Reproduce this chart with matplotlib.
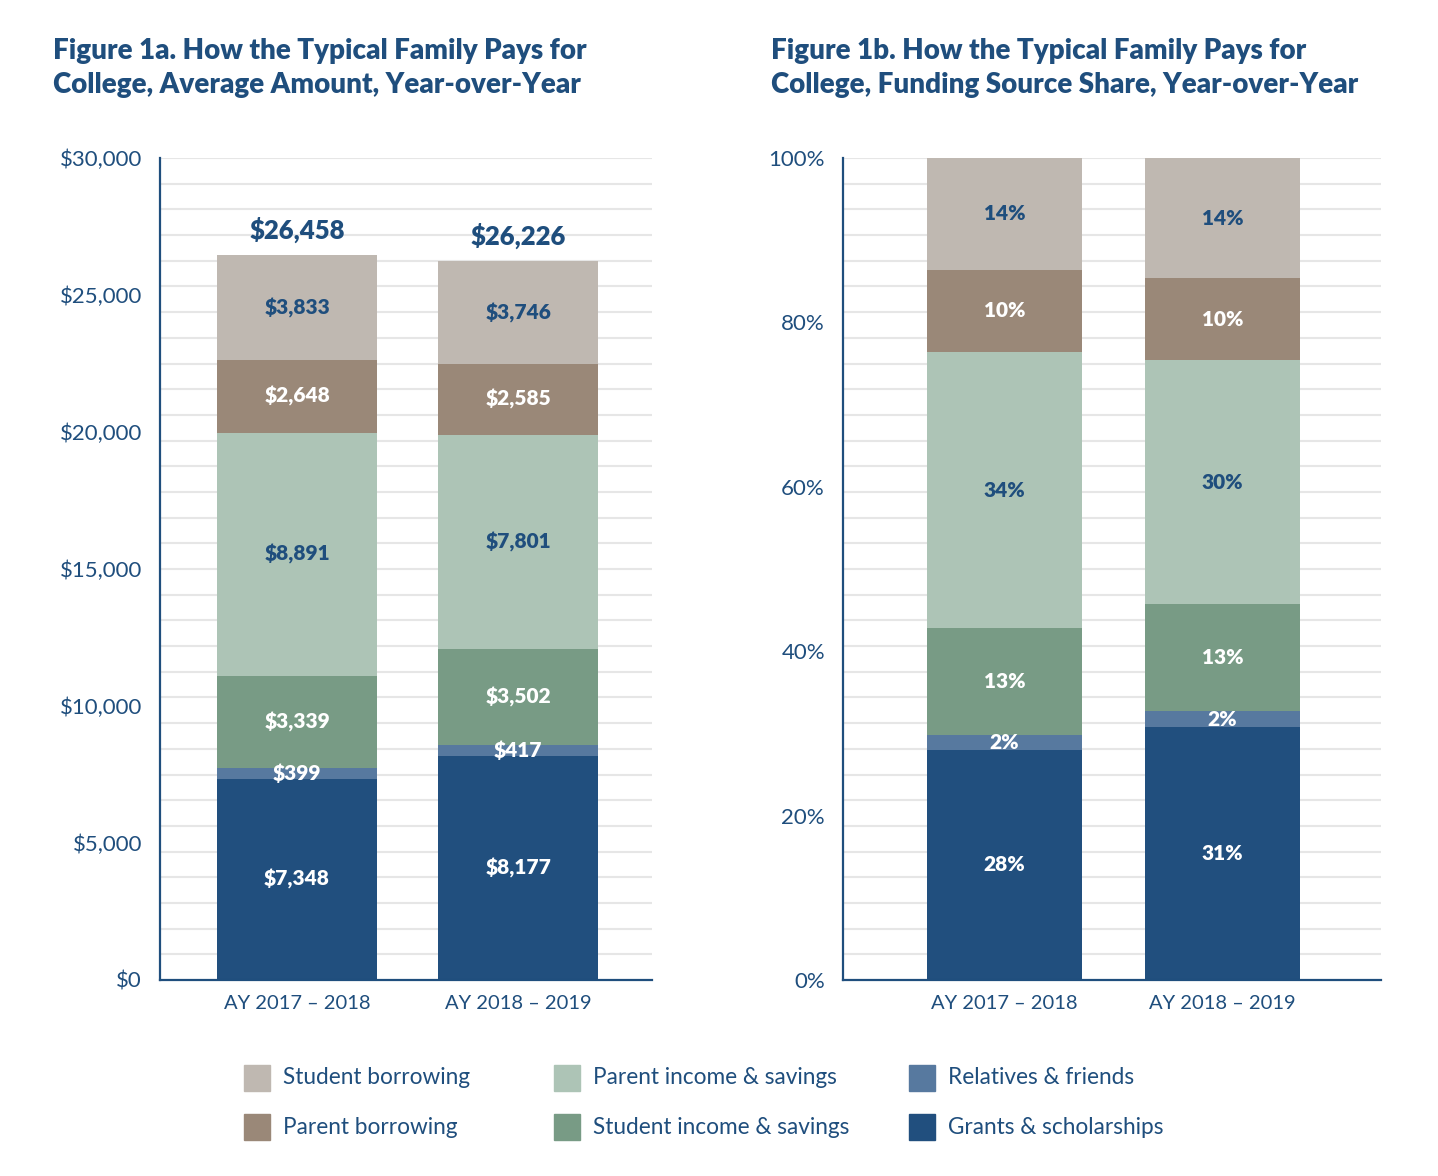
import numpy as np
import matplotlib
matplotlib.use("Agg")
import matplotlib.pyplot as plt
from matplotlib.patches import Rectangle

plt.rcParams['font.family'] = ['Lato', 'DejaVu Sans']

# data
years = ['AY 2017 – 2018', 'AY 2018 – 2019']
sources = ['Grants & scholarships', 'Relatives & friends', 'Student income & savings',
           'Parent income & savings', 'Parent borrowing', 'Student borrowing']
grants = [7348, 8177]
relatives = [399, 417]
student_income = [3339, 3502]
parent_income = [8891, 7801]
parent_borrow = [2648, 2585]
student_borrow = [3833, 3746]
totals = [26458, 26226]

# shares (percent)
grants_pct = [28.0, 30.8]
relatives_pct = [1.8, 1.9]
student_income_pct = [13.0, 13.0]
parent_income_pct = [33.6, 29.7]
parent_borrow_pct = [10.0, 10.0]
student_borrow_pct = [13.6, 14.6]
pct_labels = [['28%', '31%'], ['2%', '2%'], ['13%', '13%'],
              ['34%', '30%'], ['10%', '10%'], ['14%', '14%']]

colors = ['#214F7E', '#57799F', '#789B85', '#ADC4B6', '#9A8878', '#BFB8B1']
label_colors = ['white', 'white', 'white', '#1F4E7D', 'white', '#1F4E7D']
navy = '#1F4E7D'
grid_c = '#E6E6E6'

W, H = 1438, 1176
fig = plt.figure(figsize=(W / 100, H / 100), dpi=100)


def frac(x0, y0, x1, y1):
    return [x0 / W, 1 - y1 / H, (x1 - x0) / W, (y1 - y0) / H]


ax1 = fig.add_axes(frac(160, 158, 652, 980))
ax2 = fig.add_axes(frac(843, 158, 1381, 980))


def style(ax, ymax, ticks, ticklabels, pad):
    ax.set_ylim(0, ymax)
    for g in np.linspace(0, ymax, 33)[1:]:
        ax.axhline(g, color=grid_c, lw=1.5, zorder=0)
    for s in ['top', 'right']:
        ax.spines[s].set_visible(False)
    for s in ['left', 'bottom']:
        ax.spines[s].set_color(navy)
        ax.spines[s].set_linewidth(1.6)
        ax.spines[s].set_zorder(5)
    ax.set_yticks(ticks)
    ax.set_yticklabels(ticklabels)
    ax.tick_params(axis='y', length=0, pad=pad, labelsize=16, labelcolor=navy)
    ax.tick_params(axis='x', length=0, pad=11, labelsize=14.5, labelcolor=navy)


# Figure 1a
x = np.arange(len(years))
amounts = [grants, relatives, student_income, parent_income, parent_borrow, student_borrow]
bottom = np.zeros(len(years))
for vals, c, lc in zip(amounts, colors, label_colors):
    vals = np.array(vals)
    ax1.bar(x, vals, 0.724, bottom=bottom, color=c, zorder=2)
    for xi, b, v in zip(x, bottom, vals):
        ax1.text(xi, b + v / 2, f'${v:,}', ha='center', va='center', color=lc,
                 fontsize=15, fontweight='heavy', zorder=3)
    bottom += vals
for xi, b, t in zip(x, bottom, totals):
    ax1.annotate(f'${t:,}', (xi, b), xytext=(0, 9), textcoords='offset points',
                 ha='center', va='bottom', color=navy, fontsize=18.5, fontweight='heavy')
ax1.set_xlim(-0.62, 1.606)
ax1.set_xticks(x)
ax1.set_xticklabels(years)
yt = np.arange(0, 30001, 5000)
style(ax1, 30000, yt, [f'${v:,}' for v in yt], 13)

# Figure 1b
shares = [grants_pct, relatives_pct, student_income_pct, parent_income_pct,
          parent_borrow_pct, student_borrow_pct]
bottom = np.zeros(len(years))
for vals, labs, c, lc in zip(shares, pct_labels, colors, label_colors):
    vals = np.array(vals)
    ax2.bar(x, vals, 0.711, bottom=bottom, color=c, zorder=2)
    for xi, b, v, lab in zip(x, bottom, vals, labs):
        ax2.text(xi, b + v / 2, lab, ha='center', va='center', color=lc,
                 fontsize=15, fontweight='heavy', zorder=3)
    bottom += vals
ax2.set_xlim(-0.741, 1.727)
ax2.set_xticks(x)
ax2.set_xticklabels(years)
pt = np.arange(0, 101, 20)
style(ax2, 100, pt, [f'{v}%' for v in pt], 13)

# titles
fig.text(53 / W, 1 - 38 / H, 'Figure 1a. How the Typical Family Pays for\nCollege, Average Amount, Year-over-Year',
         ha='left', va='top', fontsize=20, fontweight='heavy', color=navy, linespacing=1.4)
fig.text(771 / W, 1 - 38 / H, 'Figure 1b. How the Typical Family Pays for\nCollege, Funding Source Share, Year-over-Year',
         ha='left', va='top', fontsize=20, fontweight='heavy', color=navy, linespacing=1.4)

# legend
leg_order = [5, 4, 3, 2, 1, 0]
col_x = [244, 554, 909]
row_y = [1078, 1127]
for k, idx in enumerate(leg_order):
    cx = col_x[k // 2]
    cy = row_y[k % 2]
    fig.add_artist(Rectangle((cx / W, 1 - (cy + 13) / H), 26 / W, 26 / H,
                             transform=fig.transFigure, color=colors[idx]))
    fig.text((cx + 39) / W, 1 - cy / H, sources[idx], ha='left', va='center',
             fontsize=16.3, color=navy)

fig.savefig('out.png', dpi=100)
